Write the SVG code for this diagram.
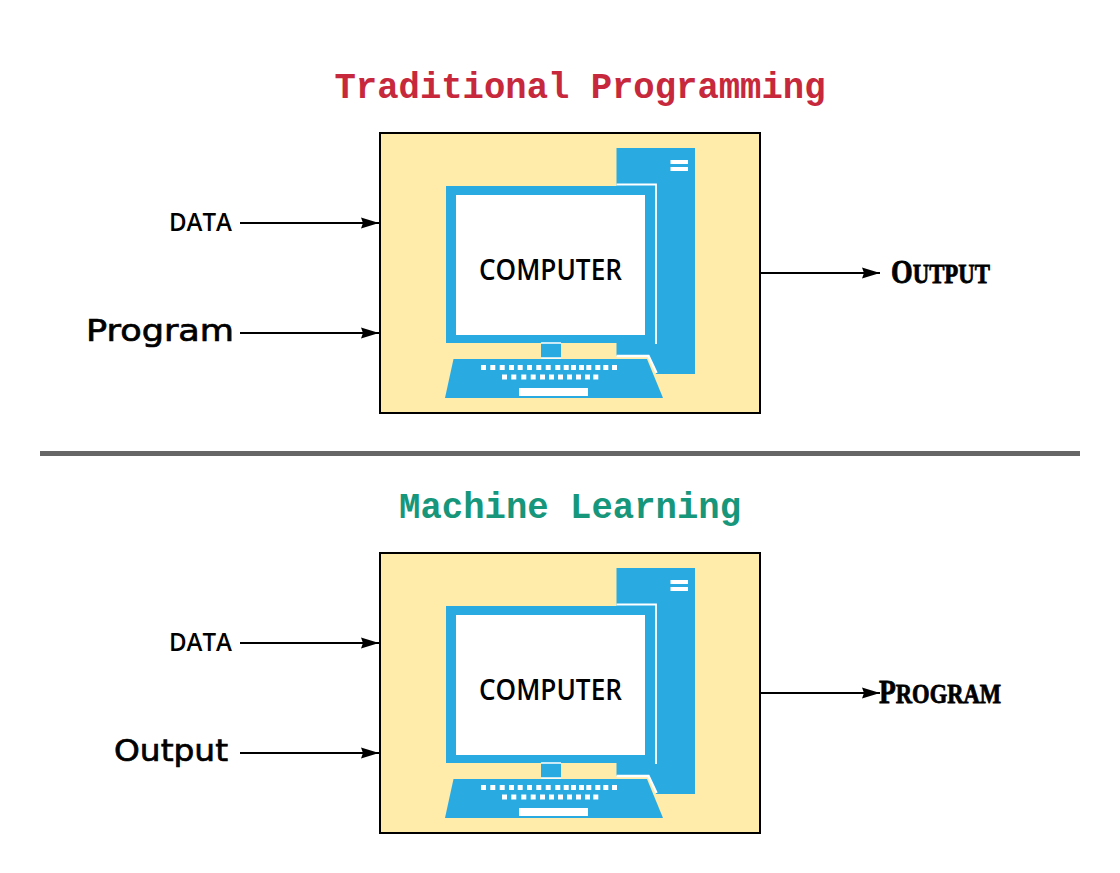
<svg xmlns="http://www.w3.org/2000/svg" xmlns:xlink="http://www.w3.org/1999/xlink" width="1120" height="873" viewBox="0 0 1120 873">
<style>
.title{font-family:"Liberation Mono",monospace;font-weight:700;font-size:36px}
.comic{font-family:"Open Sans","DejaVu Sans",sans-serif;font-weight:600;fill:#000}
.tech{font-family:"DejaVu Sans",sans-serif;font-size:31px;fill:#000;stroke:#000;stroke-width:.7}
.serif{font-family:"Liberation Serif",serif;font-weight:700;font-size:33px;fill:#000;stroke:#000;stroke-width:.8}
.sc{font-size:27px}
.conn{stroke:#000;stroke-width:2;fill:none;marker-end:url(#arrow)}
.blue{fill:#29abe2}
.w{fill:#fff}
</style>
<defs>
<marker id="arrow" markerUnits="userSpaceOnUse" markerWidth="18" markerHeight="12" refX="18" refY="6" orient="auto">
<path d="M0 0.500L18 6L0 11.500L2 6Z" fill="#000"/>
</marker>
<g id="pc">
<rect x="380" y="133" width="380" height="280" fill="#ffebaa" stroke="#000" stroke-width="2"/>
<path class="blue" d="M616.500 148H695V374H656L648 356H616.500Z"/>
<rect class="w" x="670.500" y="160" width="17.500" height="4"/>
<rect class="w" x="670.500" y="167" width="17.500" height="4"/>
<path d="M616.500 184.500H656V344" fill="none" stroke="#fff" stroke-width="1.800"/>
<path d="M616.500 356H648.500L656.500 373" fill="none" stroke="#fff" stroke-width="2.500"/>
<rect class="blue" x="446" y="186" width="209" height="157"/>
<rect class="w" x="456" y="195" width="189" height="140"/>
<rect class="blue" x="541" y="343" width="20" height="15"/>
<path d="M541 343H561M541 358H561" stroke="#fff" stroke-width="1.500"/>
<path class="blue" d="M453.500 359H647L663 398H445Z"/>
<rect class="w" x="519" y="388" width="69" height="8"/>
<g class="w">
<rect x="481" y="365" width="5" height="5"/><rect x="490.300" y="365" width="5" height="5"/><rect x="499.700" y="365" width="5" height="5"/><rect x="509" y="365" width="5" height="5"/><rect x="517.700" y="365" width="5" height="5"/><rect x="527" y="365" width="5" height="5"/><rect x="536.300" y="365" width="5" height="5"/><rect x="545.700" y="365" width="5" height="5"/><rect x="555.300" y="365" width="5" height="5"/><rect x="563.700" y="365" width="5" height="5"/><rect x="571" y="365" width="5" height="5"/><rect x="579" y="365" width="5" height="5"/><rect x="586.300" y="365" width="5" height="5"/><rect x="595.300" y="365" width="5" height="5"/><rect x="603.300" y="365" width="5" height="5"/><rect x="612" y="365" width="5" height="5"/>
<rect x="502" y="374.500" width="5" height="5"/><rect x="511.300" y="374.500" width="5" height="5"/><rect x="521.300" y="374.500" width="5" height="5"/><rect x="530.700" y="374.500" width="5" height="5"/><rect x="540" y="374.500" width="5" height="5"/><rect x="549" y="374.500" width="5" height="5"/><rect x="558" y="374.500" width="5" height="5"/><rect x="567" y="374.500" width="5" height="5"/><rect x="576" y="374.500" width="5" height="5"/><rect x="585" y="374.500" width="5" height="5"/><rect x="593.300" y="374.500" width="5" height="5"/>
</g>
</g>
</defs>
<rect width="1120" height="873" fill="#fff"/>
<g id="title-traditional"><text class="title" x="580" y="98" text-anchor="middle" fill="#c7283b" textLength="491" lengthAdjust="spacingAndGlyphs">Traditional Programming</text></g>
<g id="computer-top"><use xlink:href="#pc"/><text class="comic" x="479" y="280" font-size="29" textLength="143" lengthAdjust="spacingAndGlyphs">COMPUTER</text></g>
<g id="divider"><rect x="40" y="451" width="1040" height="5" fill="#666"/></g>
<g id="title-ml"><text class="title" x="570" y="518" text-anchor="middle" fill="#16967a" textLength="342" lengthAdjust="spacingAndGlyphs">Machine Learning</text></g>
<g id="computer-bottom"><use xlink:href="#pc" y="420"/><text class="comic" x="479" y="700" font-size="29" textLength="143" lengthAdjust="spacingAndGlyphs">COMPUTER</text></g>
<g id="label-data-1"><text class="comic" x="169" y="231" font-size="25" textLength="63" lengthAdjust="spacingAndGlyphs">DATA</text></g>
<g id="label-program-1"><text class="tech" x="86" y="341" textLength="148" lengthAdjust="spacingAndGlyphs">Program</text></g>
<g id="label-output-1"><text class="serif" transform="translate(891 283) scale(.845 1)">O<tspan class="sc">UTPUT</tspan></text></g>
<g id="label-data-2"><text class="comic" x="169" y="651" font-size="25" textLength="63" lengthAdjust="spacingAndGlyphs">DATA</text></g>
<g id="label-output-2"><text class="tech" x="114" y="761" textLength="114" lengthAdjust="spacingAndGlyphs">Output</text></g>
<g id="label-program-2"><text class="serif" transform="translate(879 703) scale(.835 1)">P<tspan class="sc">ROGRAM</tspan></text></g>
<g id="connectors">
<path class="conn" d="M240 223H379"/>
<path class="conn" d="M240 333H379"/>
<path class="conn" d="M761 273H880"/>
<path class="conn" d="M240 643H379"/>
<path class="conn" d="M240 753H379"/>
<path class="conn" d="M761 693H880"/>
</g>
</svg>
